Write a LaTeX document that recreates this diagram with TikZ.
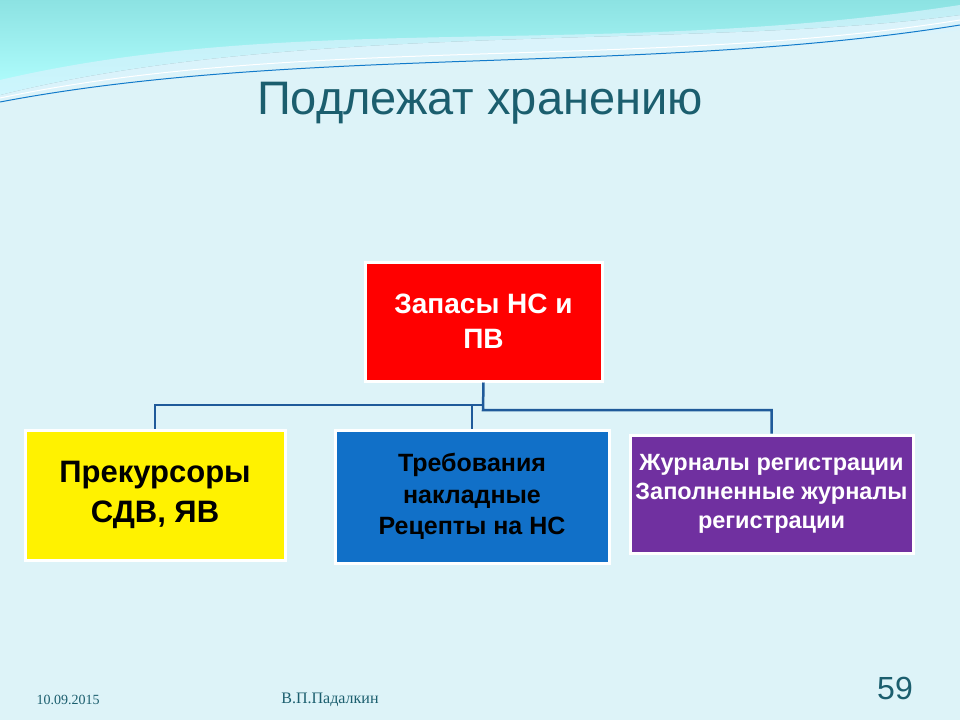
\documentclass[tikz,border=0pt]{standalone}
\usepackage{fontspec}
\setmainfont{Liberation Sans}
\newfontfamily\serf{Liberation Serif}
\begin{document}
\begin{tikzpicture}[x=1pt,y=-1pt,
 box/.style={draw=white,line width=3pt,inner sep=0pt,align=center}]
\definecolor{bg}{HTML}{DDF3F8}
\definecolor{ln}{HTML}{1F5A9A}
\definecolor{bblue}{HTML}{1170C8}
\definecolor{purp}{HTML}{7030A0}
\definecolor{ttl}{HTML}{1B5E6E}
\fill[bg] (0,0) rectangle (960,720);
\useasboundingbox (0,0) rectangle (960,720);
% top waves
\fill[top color=cyan!50!teal!45!white,bottom color=cyan!30!white] (0,0) -- (960,0) -- (960,15) .. controls (700,50) and (300,20) .. (0,95) -- cycle;
\fill[cyan!15!white,opacity=0.7] (0,80) .. controls (300,10) and (600,60) .. (960,5) -- (960,30) .. controls (650,70) and (300,40) .. (0,100) -- cycle;
\draw[white,line width=1pt] (0,98) .. controls (300,35) and (650,70) .. (960,20);
\draw[cyan!60!blue,line width=1pt] (0,102) .. controls (300,45) and (650,75) .. (960,25);
\node[text=ttl,font=\fontsize{47}{56}\selectfont] (title) at (480,103) {Подлежат хранению};
\node[box,fill=red,text=white,minimum width=237,minimum height=119,font=\bfseries\fontsize{28}{35}\selectfont] (a) at (483.5,321.5) {Запасы НС и\\ПВ};
\node[box,fill=yellow,minimum width=260,minimum height=130,font=\bfseries\fontsize{31}{40}\selectfont] (b) at (155,495) {Прекурсоры\\СДВ, ЯВ};
\node[box,fill=bblue,minimum width=274,minimum height=133,font=\bfseries\fontsize{25}{31.5}\selectfont] (c) at (472,496.5) {Требования\\накладные\\Рецепты на НС};
\node[box,fill=purp,text=white,minimum width=283,minimum height=118,font=\bfseries\fontsize{23.5}{29}\selectfont] (d) at (771.5,494) {Журналы регистрации\\Заполненные журналы\\регистрации};
\coordinate (j1) at (483,405);
\coordinate (j2) at (483,410);
\draw[ln,line width=2.5pt] (a.south) -- (j2) -| (d.north);
\draw[ln,line width=2.5pt] (j1) -| (b.north);
\draw[ln,line width=2.5pt] (472,405) -- (c.north);
\node[font=\serf\fontsize{14}{16}\selectfont,text=ttl] (dt) at (68,700) {10.09.2015};
\node[font=\serf\fontsize{16}{18}\selectfont,text=ttl] (au) at (330,700) {В.П.Падалкин};
\node[font=\fontsize{32}{36}\selectfont,text=ttl] (pg) at (895,688) {59};
\end{tikzpicture}
\end{document}
